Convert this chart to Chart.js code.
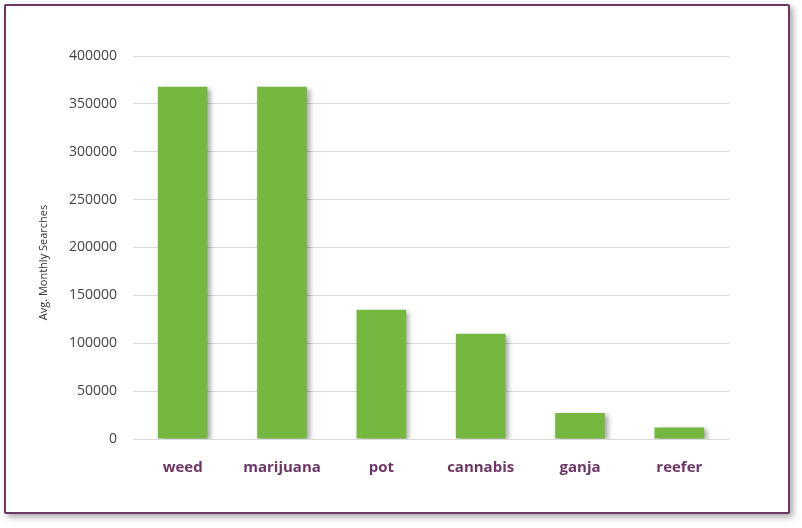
<!DOCTYPE html>
<html lang="en">
<head>
<meta charset="UTF-8" />
<title>Avg. Monthly Searches</title>
<script src="https://cdn.jsdelivr.net/npm/chart.js"></script>
<style>
html, body {
  margin: 0;
  padding: 0;
  background: #fff;
}
.frame {
  position: absolute;
  left: 4px;
  top: 4px;
  width: 786px;
  height: 510px;
  box-sizing: border-box;
  border: 2px solid #6b3763;
  border-radius: 2px;
  background: #fff;
  box-shadow: 3px 3px 6px rgba(0,0,0,0.35);
}
canvas { display: block; }
</style>
</head>
<body>
<div class="frame">
  <canvas id="chart" width="782" height="506"></canvas>
</div>

<script>
const terms = ['weed', 'marijuana', 'pot', 'cannabis', 'ganja', 'reefer'];
const searches = [368000, 368000, 135000, 110000, 27100, 12100];
const yTitle = 'Avg. Monthly Searches';

// soft drop shadow behind the bars
const barShadow = {
  id: 'barShadow',
  beforeDatasetsDraw(chart) {
    const ctx = chart.ctx;
    ctx.save();
    ctx.shadowColor = 'rgba(0,0,0,0.35)';
    ctx.shadowBlur = 5;
    ctx.shadowOffsetX = 3;
    ctx.shadowOffsetY = 2;
  },
  afterDatasetsDraw(chart) {
    chart.ctx.restore();
  }
};

// y title, sitting a little below the middle of the axis like the original
const sideTitle = {
  id: 'sideTitle',
  afterDraw(chart) {
    const ctx = chart.ctx;
    const area = chart.chartArea;
    ctx.save();
    ctx.translate(area.left - 89, (area.top + area.bottom) / 2 + 15);
    ctx.rotate(-Math.PI / 2);
    ctx.fillStyle = '#333';
    ctx.font = '11px "Open Sans"';
    ctx.textAlign = 'center';
    ctx.textBaseline = 'middle';
    ctx.fillText(yTitle, 0, 0);
    ctx.restore();
  }
};

new Chart(document.getElementById('chart').getContext('2d'), {
  type: 'bar',
  data: {
    labels: terms,
    datasets: [{
      label: yTitle,
      data: searches,
      backgroundColor: '#75b83f',
      borderWidth: 0,
      barPercentage: 0.5,
      categoryPercentage: 1.0
    }]
  },
  options: {
    responsive: false,
    animation: false,
    layout: {
      padding: { left: 20, right: 59, top: 50, bottom: 23 }
    },
    plugins: {
      legend: { display: false },
      tooltip: { enabled: false }
    },
    scales: {
      x: {
        grid: { display: false },
        border: { display: false },
        ticks: {
          color: '#6d3566',
          padding: 12,
          font: { family: 'Open Sans', size: 15, weight: 'bold' }
        }
      },
      y: {
        min: 0,
        max: 400000,
        afterFit(scale) { scale.width = 107; },
        ticks: {
          stepSize: 50000,
          color: '#444',
          padding: 16,
          font: { family: 'Open Sans', size: 14 },
          callback: v => String(v)
        },
        grid: { color: '#d9d9d9', lineWidth: 1, drawTicks: false },
        border: { display: false }
      }
    }
  },
  plugins: [barShadow, sideTitle]
});
</script>
</body>
</html>
